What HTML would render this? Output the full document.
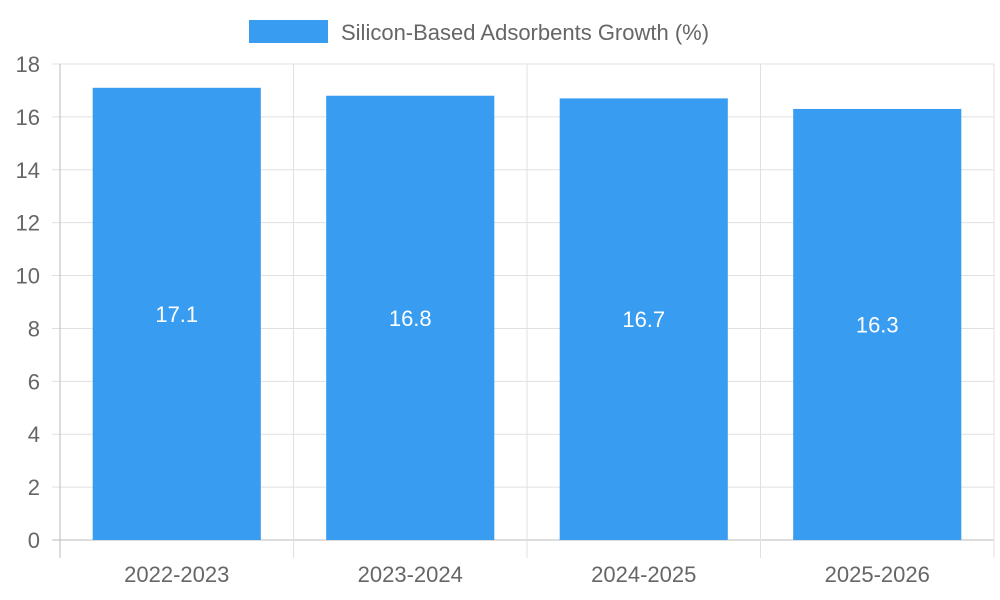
<!DOCTYPE html>
<html><head><meta charset="utf-8"><style>
body{margin:0;background:#fff;}
svg{display:block;font-family:"Liberation Sans",sans-serif;}
</style></head><body>
<svg id="chart" width="1000" height="600">
<rect x="249" y="20" width="79" height="23" fill="#389cf0"></rect>
<text x="341" y="40" font-size="22" fill="#666">Silicon-Based Adsorbents Growth (%)</text>
<g id="grid"></g><g id="bars"></g><g id="labels"></g>
</svg>
<script>
const categories=["2022-2023","2023-2024","2024-2025","2025-2026"];
const values=[17.1,16.8,16.7,16.3];
const yTicks=[0,2,4,6,8,10,12,14,16,18];
const NS="http://www.w3.org/2000/svg";
const L=60,R=994,T=64,B=540,yMax=18;
const y=v=>B-(v/yMax)*(B-T);
const bw=(R-L)/categories.length;
const x=i=>L+bw*i;
function mk(tag,attrs,parent,text){const e=document.createElementNS(NS,tag);for(const k in attrs)e.setAttribute(k,attrs[k]);if(text!==undefined)e.textContent=text;parent.appendChild(e);return e;}
const g=document.getElementById('grid'),bg=document.getElementById('bars'),lg=document.getElementById('labels');
yTicks.forEach(t=>{
 const ln=mk('line',{x1:52,x2:R,y1:y(t),y2:y(t),stroke:t===0?'#bbb':'#e0e0e0','stroke-width':1},g);
 
 
 const tx=mk('text',{x:40,y:y(t)+8,'font-size':22,fill:'#666','text-anchor':'end'},g,String(t));
 
 
});
for(let i=0;i<=categories.length;i++){
 const ln=mk('line',{x1:x(i),x2:x(i),y1:T,y2:558,stroke:i===0?'#bbb':'#e0e0e0','stroke-width':1},g);
 
 
}
categories.forEach((c,i)=>{
 const w=bw*0.72,cx=x(i)+bw/2;
 const r=mk('rect',{x:cx-w/2,y:y(values[i]),width:w,height:B-y(values[i]),fill:'#389cf0'},bg);
 
 
 const vt=mk('text',{x:cx,y:(y(values[i])+B)/2+8,'font-size':22,fill:'#fff','text-anchor':'middle'},lg,String(values[i]));
 
 
 const ct=mk('text',{x:cx,y:582,'font-size':22,fill:'#666','text-anchor':'middle'},lg,c);
 
 
});
</script>
</body></html>
